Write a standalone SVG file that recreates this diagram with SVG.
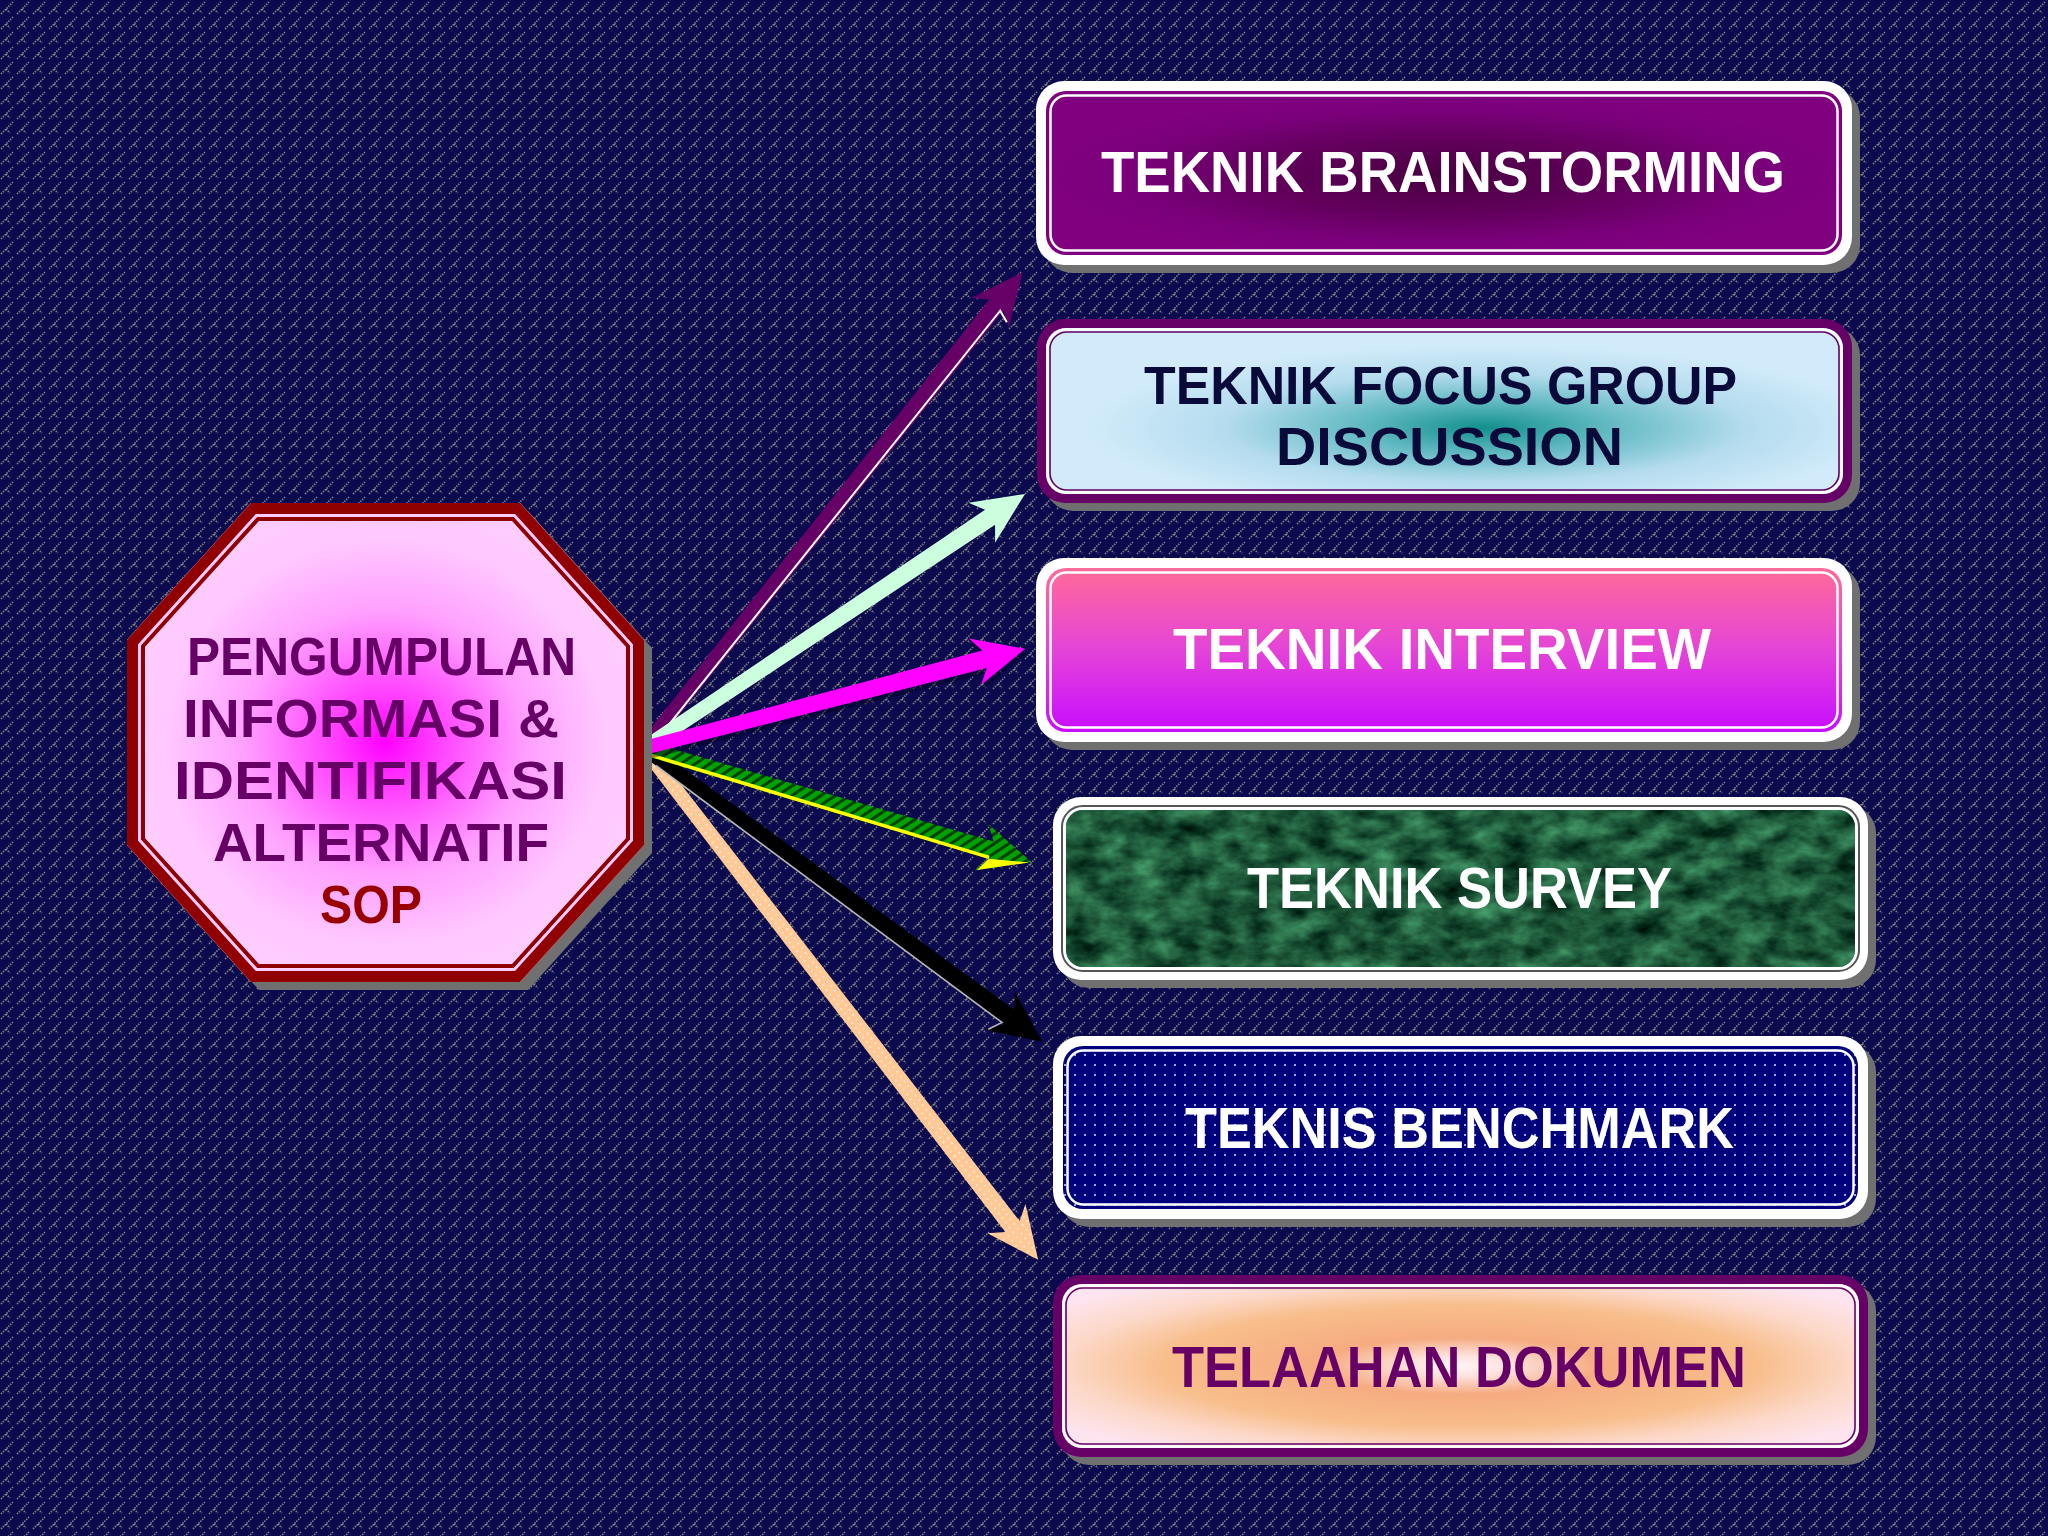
<svg xmlns="http://www.w3.org/2000/svg" width="2048" height="1536" viewBox="0 0 2048 1536">
<style>
.t{font-family:'Liberation Sans','Open Sans','DejaVu Sans',sans-serif;font-weight:700;font-size:58px}
.m{font-size:54px}
.w{fill:#ffffff}
.shadow{fill:#707070}
.line{fill:none;stroke:#ffffff;stroke-width:2.5}
</style>
<defs>
<pattern id="bg" width="16" height="15" patternUnits="userSpaceOnUse">
<rect width="16" height="15" fill="#0b0a4e"/>
<path d="M1 14 L13 2 M6 9 L10 13" stroke="#7e7e7e" stroke-width="1.7" stroke-dasharray="1.5 1.1" fill="none"/>
</pattern>
<radialGradient id="octGrad" cx="0.5" cy="0.5" r="0.5">
<stop offset="0" stop-color="#ff00ff"/>
<stop offset="0.2" stop-color="#ff40ff"/>
<stop offset="0.55" stop-color="#ffa0ff"/>
<stop offset="0.85" stop-color="#ffc8ff"/>
<stop offset="1" stop-color="#ffccff"/>
</radialGradient>
<radialGradient id="g1" cx="0.5" cy="0.52" r="0.5">
<stop offset="0" stop-color="#48003f"/>
<stop offset="0.45" stop-color="#62005c"/>
<stop offset="0.8" stop-color="#7a007a"/>
<stop offset="1" stop-color="#800080"/>
</radialGradient>
<radialGradient id="g2" cx="0.55" cy="0.6" r="0.5">
<stop offset="0" stop-color="#12908e"/>
<stop offset="0.3" stop-color="#5fb8c0"/>
<stop offset="0.65" stop-color="#b4dcee"/>
<stop offset="1" stop-color="#d2ebfa"/>
</radialGradient>
<linearGradient id="g3" x1="0" y1="0" x2="0" y2="1">
<stop offset="0" stop-color="#ff6b98"/>
<stop offset="0.5" stop-color="#e444d8"/>
<stop offset="1" stop-color="#c80cff"/>
</linearGradient>
<filter id="marble" x="0" y="0" width="1" height="1" color-interpolation-filters="sRGB">
<feTurbulence type="fractalNoise" baseFrequency="0.03 0.05" numOctaves="4" seed="5" result="n"/>
<feColorMatrix in="n" type="matrix" values="0.4 0 0 0 -0.08  0.7 0 0 0 0.0  0.5 0 0 0 -0.02  0 0 0 0 1" result="c"/>
<feComposite in="c" in2="SourceGraphic" operator="in"/>
</filter>
<pattern id="dots" width="10" height="10" patternUnits="userSpaceOnUse">
<rect width="10" height="10" fill="#00007c"/>
<circle cx="5" cy="5" r="1" fill="#d8d8ff"/>
</pattern>
<radialGradient id="g6" cx="0.5" cy="0.5" r="0.62">
<stop offset="0" stop-color="#fff4f4"/>
<stop offset="0.1" stop-color="#fde2de"/>
<stop offset="0.28" stop-color="#f6ab80"/>
<stop offset="0.6" stop-color="#f8be8c"/>
<stop offset="0.8" stop-color="#fcd8c8"/>
<stop offset="1" stop-color="#fde4ee"/>
</radialGradient>
<pattern id="stripes" width="8" height="8" patternUnits="userSpaceOnUse" patternTransform="rotate(40)">
<rect width="8" height="8" fill="#00a000"/>
<rect width="3" height="8" fill="#003f00"/>
</pattern>
<pattern id="peach" width="6" height="6" patternUnits="userSpaceOnUse">
<rect width="6" height="6" fill="#ffc894"/>
<circle cx="3" cy="3" r="1" fill="#fff0e0"/>
</pattern>
<clipPath id="octClip"><polygon points="251,503 520,503 644,640 644,845 520,982 251,982 127,845 127,640"/></clipPath>
</defs>

<rect width="2048" height="1536" fill="url(#bg)"/>

<g id="connectors">
<g id="arrow-brainstorming" transform="translate(644,748) rotate(-51.5)">
<polygon points="0,-7 566,-9 556,-24 608,0 556,24 566,9 0,7" fill="#660066"/>
<polyline points="30,5 564,6.5 559,19" fill="none" stroke="#ffffff" stroke-width="2"/>
</g>
<g id="arrow-focus" transform="translate(644,748) rotate(-33.7)">
<polygon points="0,-7 416,-9 406,-24 458,0 406,24 416,9 0,7" fill="#ccffdd"/>
</g>
<g id="arrow-document" transform="translate(644,748) rotate(52.4)">
<polygon points="0,-7 604,-9 594,-24 646,0 594,24 604,9 0,7" fill="url(#peach)"/>
</g>
<g id="arrow-benchmark" transform="translate(644,748) rotate(36.4)">
<polygon points="0,-7 453,-9 443,-24 495,0 443,24 453,9 0,7" fill="#000000"/>
<polyline points="20,7 451,8.5 444,22" fill="none" stroke="#b8b8b8" stroke-width="1.6"/>
</g>
<g id="arrow-survey" transform="translate(644,748) rotate(16.4)">
<polygon points="0,-7 362,-9 352,-24 404,0 352,24 362,9 0,7" fill="url(#stripes)"/>
<polyline points="4,5 362,7.5" fill="none" stroke="#ffff00" stroke-width="3.5"/>
<polygon points="354,23 362,9 402,1" fill="#ffff00"/>
</g>
<g id="arrow-interview" transform="translate(644,748) rotate(-14.6)">
<polygon points="2,0 352,-4 342,-19 394,5 342,29 352,14 2,12" fill="#000022" opacity="0.45"/>
<polygon points="0,-7 352,-9 342,-24 394,0 342,24 352,9 0,7" fill="#ff00ff"/>
</g>
</g>

<g id="node-center">
<polygon class="shadow" transform="translate(8,8)" points="251,503 520,503 644,640 644,845 520,982 251,982 127,845 127,640"/>
<polygon points="251,503 520,503 644,640 644,845 520,982 251,982 127,845 127,640" fill="url(#octGrad)"/>
<g clip-path="url(#octClip)" fill="none">
<polygon points="251,503 520,503 644,640 644,845 520,982 251,982 127,845 127,640" stroke="#900000" stroke-width="36"/>
<polygon points="251,503 520,503 644,640 644,845 520,982 251,982 127,845 127,640" stroke="#ffccff" stroke-width="28"/>
<polygon points="251,503 520,503 644,640 644,845 520,982 251,982 127,845 127,640" stroke="#900000" stroke-width="22"/>
</g>
<g class="t m" fill="#660066">
<text x="187" y="675" textLength="389" lengthAdjust="spacingAndGlyphs">PENGUMPULAN</text>
<text x="183" y="737" textLength="376" lengthAdjust="spacingAndGlyphs">INFORMASI &amp;</text>
<text x="174" y="799" textLength="393" lengthAdjust="spacingAndGlyphs">IDENTIFIKASI</text>
<text x="213" y="861" textLength="336" lengthAdjust="spacingAndGlyphs">ALTERNATIF</text>
<text x="320" y="923" textLength="102" lengthAdjust="spacingAndGlyphs" fill="#990000">SOP</text>
</g>
</g>

<g id="node-brainstorming">
<rect class="shadow" x="1044" y="89" width="816" height="184" rx="28"/>
<rect x="1036" y="81" width="816" height="184" rx="28" fill="#ffffff"/>
<rect x="1046" y="91" width="796" height="164" rx="20" fill="url(#g1)"/>
<rect class="line" x="1050.5" y="95.5" width="787" height="155" rx="16"/>
<text class="t w" x="1101" y="192" textLength="684" lengthAdjust="spacingAndGlyphs">TEKNIK BRAINSTORMING</text>
</g>

<g id="node-focus-group">
<rect class="shadow" x="1045" y="327" width="815" height="184" rx="28"/>
<rect x="1037" y="319" width="815" height="184" rx="28" fill="#660066"/>
<rect x="1046" y="328" width="797" height="166" rx="20" fill="url(#g2)"/>
<rect class="line" x="1047.5" y="329.5" width="794" height="163" rx="19" stroke-width="3"/>
<rect x="1050" y="332" width="789" height="158" rx="17" fill="none" stroke="#660066" stroke-width="1.6"/>
<g class="t m" fill="#0a0a3a">
<text x="1144" y="404" textLength="593" lengthAdjust="spacingAndGlyphs">TEKNIK FOCUS GROUP</text>
<text x="1276" y="465" textLength="347" lengthAdjust="spacingAndGlyphs">DISCUSSION</text>
</g>
</g>

<g id="node-interview">
<rect class="shadow" x="1044" y="566" width="816" height="184" rx="28"/>
<rect x="1036" y="558" width="816" height="184" rx="28" fill="#ffffff"/>
<rect x="1046" y="568" width="796" height="164" rx="20" fill="url(#g3)"/>
<rect class="line" x="1050.5" y="572.5" width="787" height="155" rx="16"/>
<text class="t w" x="1173" y="669" textLength="538" lengthAdjust="spacingAndGlyphs">TEKNIK INTERVIEW</text>
</g>

<g id="node-survey">
<rect class="shadow" x="1061" y="805" width="815" height="183" rx="28"/>
<rect x="1053" y="797" width="815" height="183" rx="28" fill="#ffffff"/>
<rect x="1062" y="806" width="797" height="165" rx="21" fill="none" stroke="#555555" stroke-width="2"/>
<rect x="1066" y="810" width="789" height="157" rx="17" fill="#1d6440"/>
<rect x="1066" y="810" width="789" height="157" rx="17" fill="#1d6440" filter="url(#marble)"/>
<text class="t w" x="1247" y="908" textLength="425" lengthAdjust="spacingAndGlyphs">TEKNIK SURVEY</text>
</g>

<g id="node-benchmark">
<rect class="shadow" x="1061" y="1044" width="815" height="183" rx="28"/>
<rect x="1053" y="1036" width="815" height="183" rx="28" fill="#ffffff"/>
<rect x="1063" y="1046" width="795" height="163" rx="20" fill="url(#dots)"/>
<rect class="line" x="1067.5" y="1050.5" width="786" height="154" rx="16"/>
<text class="t w" x="1185" y="1148" textLength="549" lengthAdjust="spacingAndGlyphs">TEKNIS BENCHMARK</text>
</g>

<g id="node-document">
<rect class="shadow" x="1061" y="1283" width="815" height="182" rx="28"/>
<rect x="1053" y="1275" width="815" height="182" rx="28" fill="#660066"/>
<rect x="1062" y="1284" width="797" height="164" rx="20" fill="url(#g6)"/>
<rect class="line" x="1063.5" y="1285.5" width="794" height="161" rx="19" stroke-width="3"/>
<rect x="1066" y="1288" width="789" height="156" rx="17" fill="none" stroke="#660066" stroke-width="1.6"/>
<text class="t" fill="#660066" x="1172" y="1387" textLength="574" lengthAdjust="spacingAndGlyphs">TELAAHAN DOKUMEN</text>
</g>
</svg>
